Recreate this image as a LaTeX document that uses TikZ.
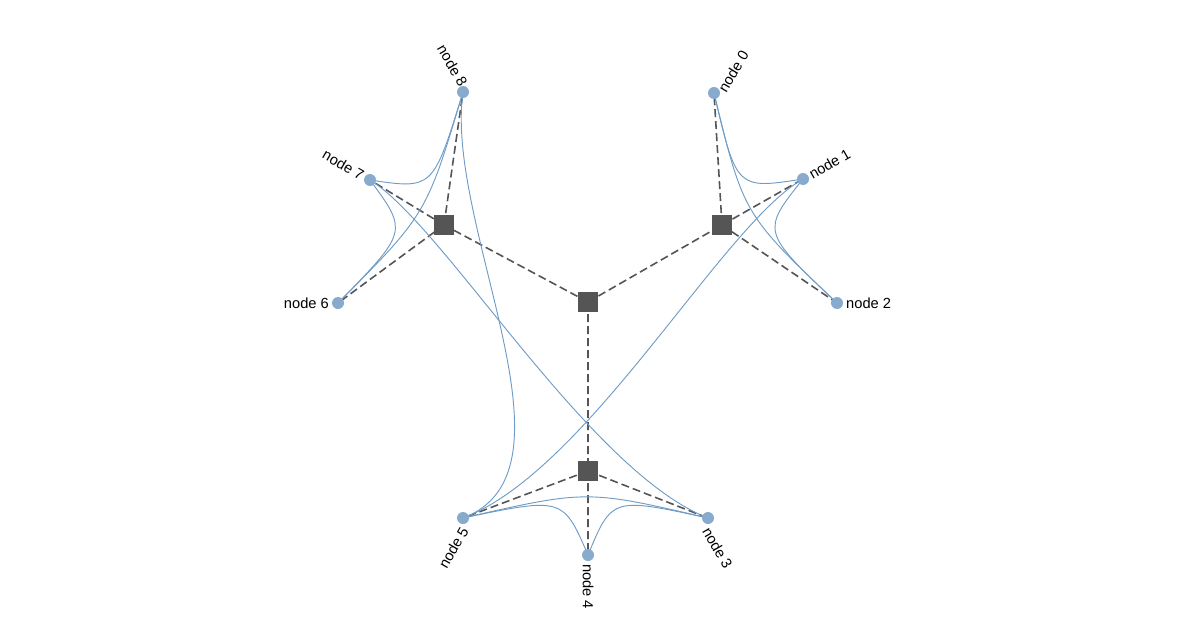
\documentclass[tikz,border=0pt]{standalone}
\usepackage{fontspec}
\setmainfont{Liberation Sans}
\usetikzlibrary{calc}
\begin{document}
\begin{tikzpicture}[x=0.75pt,y=-0.75pt,
  leaf/.style={circle,fill=leafc,inner sep=0pt,minimum size=9pt},
  hub/.style={rectangle,fill=hubc,inner sep=0pt,minimum size=15pt},
  tree/.style={draw=hubc,line width=1.2pt,dash pattern=on 6pt off 3pt},
  link/.style={draw=linkc,line width=0.7pt},
  lbl/.style={font=\fontsize{11pt}{13pt}\selectfont,inner sep=2pt}]
\definecolor{leafc}{HTML}{88AACC}
\definecolor{hubc}{HTML}{555555}
\definecolor{linkc}{HTML}{6F9CC6}
\useasboundingbox (0,0) rectangle (1200,628);
\node[hub] (c) at (588,302) {};
\node[hub] (ha) at (722,225) {};
\node[hub] (hb) at (588,471) {};
\node[hub] (hc) at (444,225) {};
\coordinate (n0) at (714,93);
\coordinate (n1) at (803,179);
\coordinate (n2) at (837,303);
\coordinate (n3) at (708,518);
\coordinate (n4) at (588,555);
\coordinate (n5) at (463,518);
\coordinate (n6) at (338,303);
\coordinate (n7) at (370,180);
\coordinate (n8) at (463,92);
\draw[tree] (c.center)--(ha.center) (c.center)--(hb.center) (c.center)--(hc.center)
 (ha.center)--(n0) (ha.center)--(n1) (ha.center)--(n2)
 (hb.center)--(n3) (hb.center)--(n4) (hb.center)--(n5)
 (hc.center)--(n6) (hc.center)--(n7) (hc.center)--(n8);
\foreach \h/\a/\b in {ha/n0/n1, ha/n0/n2, ha/n1/n2, hb/n3/n4, hb/n3/n5, hb/n4/n5, hc/n6/n7, hc/n6/n8, hc/n7/n8}
  \draw[link] (\a) .. controls ($(\h.center)!0.4!($(\a)!0.5!(\b)$)$) .. (\b);
\draw[link] (n8) .. controls (hc.center) and (hb.center) .. (n5);
\draw[link] (n7) .. controls (hc.center) and (hb.center) .. (n3);
\draw[link] (n1) .. controls (ha.center) and (hb.center) .. (n5);
\node[hub] at (c) {};
\node[hub] at (ha) {};
\node[hub] at (hb) {};
\node[hub] at (hc) {};
\foreach \i in {0,...,8} \node[leaf] (l\i) at (n\i) {};
\node[lbl,anchor=west,rotate=59] at (l0.east) {node 0};
\node[lbl,anchor=west,rotate=30] at (l1) [xshift=4pt] {node 1};
\node[lbl,anchor=west] at (l2.east) {node 2};
\node[lbl,anchor=west,rotate=-60] at (n3) [shift={(4pt,-5pt)}] {node 3};
\node[lbl,anchor=west,rotate=-90] at (l4.south) {node 4};
\node[lbl,anchor=east,rotate=60] at (n5) [shift={(-4pt,-5pt)}] {node 5};
\node[lbl,anchor=east] at (l6.west) {node 6};
\node[lbl,anchor=east,rotate=-30] at (n7) [xshift=-4pt] {node 7};
\node[lbl,anchor=east,rotate=-60] at (n8) [shift={(-2pt,3pt)}] {node 8};
\end{tikzpicture}
\end{document}
